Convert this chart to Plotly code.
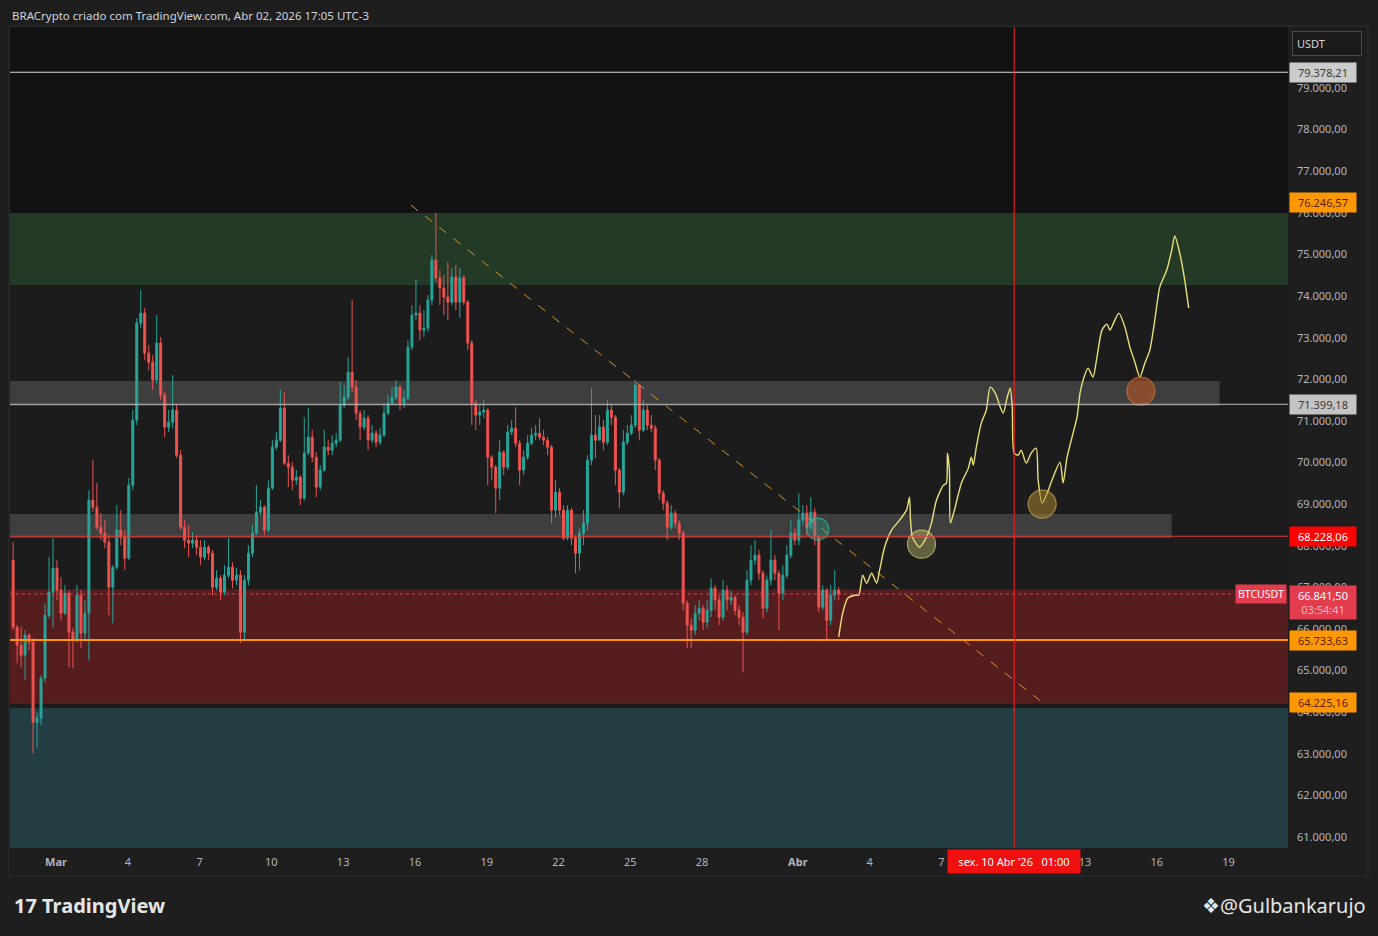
import pandas as pd
import plotly.graph_objects as go

# BTCUSDT 4h candles (UTC-3), first candle Feb 27 05:00, last Apr 02 17:00
candle_start = "2026-02-27 05:00"
first_open = 67653
closes = [
    66042, 65610, 65369, 65850, 65682, 63758, 63854, 64817, 66331, 66884,
    67461, 66932, 66379, 66860, 65922, 65730, 66811, 65898, 66379, 69095,
    68927, 68446, 68302, 68085, 67004, 67485, 68374, 68206, 67701, 69456,
    71018, 73350, 73591, 72629, 72412, 71980, 72869, 71620, 70850, 70970,
    71259, 70177, 68446, 68134, 68062, 68134, 67965, 67725, 67965, 67821,
    67004, 67220, 66884, 67292, 67485, 67172, 67292, 65922, 67172, 67821,
    68302, 68807, 68927, 68374, 69384, 70369, 70537, 71307, 69985, 69889,
    69576, 69648, 69144, 70225, 70610, 70129, 69408, 69817, 70369, 70297,
    70465, 70537, 71379, 71571, 72172, 71812, 71186, 70850, 71066, 70537,
    70706, 70489, 70658, 71186, 71427, 71571, 71812, 71427, 71547, 72773,
    73543, 73591, 73182, 73230, 73903, 74865, 74433, 74192, 73976, 73855,
    74457, 73855, 74433, 73855, 72869, 71427, 71138, 71211, 71259, 70129,
    69889, 69384, 70249, 69889, 70730, 70826, 70465, 69817, 70129, 70465,
    70658, 70706, 70610, 70537, 70369, 68855, 69288, 68855, 68182, 68855,
    68182, 67821, 68302, 68542, 70057, 70658, 70537, 70850, 70489, 71259,
    71090, 69817, 69288, 70489, 70706, 70898, 71860, 70778, 71259, 70898,
    70826, 70057, 69264, 69023, 68446, 68783, 68542, 68302, 66619, 66090,
    65970, 66379, 66499, 66162, 66451, 66980, 66691, 66282, 66932, 66691,
    66763, 66451, 66282, 65922, 67172, 67653, 67773, 67340, 66499, 67172,
    67653, 67340, 66860, 67292, 67773, 68302, 68134, 68615, 68783, 68446,
    68807, 68206, 66523, 66932, 66210, 66811, 66932, 66841.5,
]
highs = [
    68085, 66090, 66042, 65970, 65898, 65778, 63999, 64889, 66619, 67725,
    68182, 67653, 67244, 67052, 66932, 66018, 67052, 66932, 66691, 69336,
    70057, 69504, 68783, 68615, 68254, 67533, 68975, 68855, 68374, 69624,
    71259, 73470, 74144, 73711, 72821, 72581, 73543, 73014, 71692, 71259,
    72100, 71379, 70297, 68615, 68494, 68326, 68254, 68134, 68134, 68013,
    67893, 67412, 67292, 67533, 68182, 67605, 67461, 67412, 67292, 68013,
    68494, 69456, 69095, 68975, 69576, 70537, 70730, 71740, 71692, 70177,
    70009, 69817, 69696, 71090, 71307, 70778, 70249, 69937, 70778, 70537,
    70658, 70706, 71932, 71860, 72533, 73903, 71980, 71259, 71259, 71138,
    70898, 70778, 70826, 71379, 71620, 71812, 71980, 71860, 71740, 72941,
    73783, 74385, 73783, 73663, 74024, 74985, 75994, 74625, 74505, 74817,
    74673, 74745, 74673, 74505, 73903, 72941, 71499, 71379, 71499, 71307,
    70177, 69937, 70537, 70297, 70898, 71018, 71331, 70537, 70297, 70658,
    70826, 70898, 71066, 70778, 70610, 70417, 69576, 69384, 68975, 68975,
    68903, 68254, 68422, 68855, 70177, 71788, 71138, 71138, 71018, 71499,
    71379, 71138, 69865, 70778, 70898, 71138, 71980, 71860, 71499, 71379,
    71138, 70898, 70105, 69336, 69095, 68975, 68855, 68615, 68374, 66691,
    66258, 66571, 66691, 66571, 66691, 67220, 67052, 66811, 67172, 67052,
    66932, 66811, 66571, 66403, 67412, 68013, 68134, 67893, 67412, 67292,
    68374, 67773, 67412, 67533, 68013, 68615, 68422, 69264, 68975, 68975,
    69168, 68903, 68254, 67052, 66980, 67052, 67412, 67004,
]
lows = [
    65970, 65177, 65081, 64768, 65489, 63013, 63157, 63686, 64720, 66258,
    66042, 66691, 66210, 66331, 65081, 65057, 65682, 65537, 65730, 65249,
    68807, 68374, 68134, 67941, 66331, 66138, 67412, 68013, 67412, 67653,
    69336, 70898, 73230, 72460, 72220, 71740, 71908, 71499, 70610, 70730,
    70826, 70105, 68374, 67941, 67725, 67941, 67773, 67533, 67653, 67653,
    66811, 66932, 66691, 66811, 67220, 66980, 67052, 65658, 65730, 67052,
    67725, 68254, 68735, 68254, 68326, 69336, 70297, 70489, 69937, 69408,
    69336, 69456, 68975, 69095, 70177, 70009, 69168, 69336, 69768, 70177,
    70177, 70369, 70489, 71307, 71499, 71692, 71018, 70537, 70778, 70297,
    70465, 70369, 70417, 70610, 71138, 71379, 71499, 71259, 71307, 71499,
    72701, 73422, 72941, 73014, 73134, 73783, 74337, 73783, 73543, 73422,
    73783, 73663, 73470, 73783, 72701, 70898, 70778, 70898, 71066, 69456,
    69576, 68783, 69095, 69696, 69817, 70658, 70369, 69456, 69696, 70057,
    70417, 70537, 70537, 70417, 70177, 68542, 68663, 68735, 68134, 68134,
    68013, 67340, 67412, 68013, 68374, 69937, 70105, 70537, 70297, 70417,
    70898, 69456, 68903, 69216, 70417, 70658, 70826, 70537, 70730, 70778,
    70730, 69817, 69095, 68855, 68134, 68374, 68422, 68134, 66451, 65537,
    65537, 65850, 66210, 65970, 66018, 66282, 66451, 66090, 66210, 66451,
    66571, 66331, 66090, 64961, 65850, 67052, 67533, 67172, 66258, 66403,
    67052, 67172, 65970, 66691, 67220, 67701, 68013, 68013, 68494, 68254,
    68374, 68013, 66403, 66451, 65730, 66090, 66691, 66691,
]

# hand-drawn projection (brush)
proj_time = [
    "2026-04-02 17:00", "2026-04-02 21:00", "2026-04-03 02:00", "2026-04-03 09:00", "2026-04-03 13:00",
    "2026-04-03 17:00", "2026-04-03 21:00", "2026-04-04 02:00", "2026-04-04 07:00", "2026-04-04 10:00",
    "2026-04-04 15:00", "2026-04-04 22:00", "2026-04-05 06:00", "2026-04-05 13:00", "2026-04-05 16:00",
    "2026-04-05 17:00", "2026-04-05 19:00", "2026-04-06 02:00", "2026-04-06 09:00", "2026-04-06 14:00",
    "2026-04-06 19:00", "2026-04-07 02:00", "2026-04-07 05:00", "2026-04-07 06:00", "2026-04-07 08:00",
    "2026-04-07 09:00", "2026-04-07 13:00", "2026-04-07 20:00", "2026-04-08 03:00", "2026-04-08 06:00",
    "2026-04-08 08:00", "2026-04-08 11:00", "2026-04-08 16:00", "2026-04-08 21:00", "2026-04-09 01:00",
    "2026-04-09 06:00", "2026-04-09 11:00", "2026-04-09 14:00", "2026-04-09 18:00", "2026-04-09 21:00",
    "2026-04-09 23:00", "2026-04-10 01:00", "2026-04-10 05:00", "2026-04-10 08:00", "2026-04-10 13:00",
    "2026-04-10 18:00", "2026-04-10 23:00", "2026-04-11 01:00", "2026-04-11 05:00", "2026-04-11 10:00",
    "2026-04-11 16:00", "2026-04-11 23:00", "2026-04-12 02:00", "2026-04-12 06:00", "2026-04-12 11:00",
    "2026-04-12 16:00", "2026-04-12 19:00", "2026-04-12 23:00", "2026-04-13 03:00", "2026-04-13 08:00",
    "2026-04-13 12:00", "2026-04-13 17:00", "2026-04-13 22:00", "2026-04-14 01:00", "2026-04-14 05:00",
    "2026-04-14 10:00", "2026-04-14 16:00", "2026-04-14 21:00", "2026-04-15 02:00", "2026-04-15 07:00",
    "2026-04-15 12:00", "2026-04-15 17:00", "2026-04-15 22:00", "2026-04-16 03:00", "2026-04-16 10:00",
    "2026-04-16 15:00", "2026-04-16 18:00", "2026-04-16 23:00", "2026-04-17 04:00", "2026-04-17 08:00",
]
proj_price = [
    65809, 66379, 66739, 66811, 66811, 67292, 67100, 67340, 67100, 67412,
    67965, 68374, 68615, 68855, 69168, 68615, 68206, 67965, 68206, 68542,
    69095, 69456, 69504, 70225, 69817, 68542, 68855, 69504, 69865, 70129,
    69937, 70369, 70946, 71259, 71812, 71667, 71331, 71186, 71571, 71788,
    71331, 70225, 70177, 70297, 69985, 70225, 70345, 69576, 69023, 69264,
    69648, 70009, 69504, 70129, 70610, 71090, 71667, 72052, 72268, 72052,
    72533, 73182, 73326, 73182, 73374, 73591, 73254, 72773, 72412, 72052,
    72388, 72701, 73422, 74216, 74625, 75106, 75443, 75034, 74385, 73711,
]

trend_time = ["2026-03-15 20:00", "2026-04-11 08:45"]
trend_price = [76187, 64167]

circle_time = ["2026-04-01 20:00", "2026-04-06 04:00", "2026-04-11 05:00", "2026-04-15 08:00"]
circle_price = [68398, 68038, 68999, 71716]

level_white = 79378.21
level_gray = 71399.18
level_red = 68228.06
level_orange = 65733.63
last_price = 66841.50
label_orange_top = 76246.57
label_orange_low = 64225.16
countdown = "03:54:41"

zone_green = (74264, 75995)
zone_gray_hi = (71356, 71957)
zone_gray_lo = (68183, 68760)
zone_red = (64200, 66956)
zone_teal_top = 64100

gray_hi_end = "2026-04-18 15:00"
gray_lo_end = "2026-04-16 15:00"
vline_time = "2026-04-10 01:00"

x_range = ["2026-02-27 01:52", "2026-04-21 11:35"]
y_range = [60736, 80466]
y_tickvals = [61000, 62000, 63000, 64000, 65000, 66000, 67000, 68000, 69000, 70000,
              71000, 72000, 73000, 74000, 75000, 76000, 77000, 78000, 79000]

# the Apr 10 tick sits under the red crosshair label, so its text is left empty
x_tickvals = ["2026-03-01", "2026-03-04", "2026-03-07", "2026-03-10", "2026-03-13", "2026-03-16",
              "2026-03-19", "2026-03-22", "2026-03-25", "2026-03-28", "2026-04-01", "2026-04-04",
              "2026-04-07", "2026-04-10", "2026-04-13", "2026-04-16", "2026-04-19"]
x_ticktext = ["<b>Mar</b>", "4", "7", "10", "13", "16", "19", "22", "25", "28", "<b>Abr</b>",
              "4", "7", "", "13", "16", "19"]

UP = "#26a69a"
DOWN = "#ef5350"
FONT = "Noto Sans, Open Sans, sans-serif"


def br(v):
    return f"{v:,.2f}".replace(",", "_").replace(".", ",").replace("_", ".")


times = pd.date_range(candle_start, periods=len(closes), freq="4h")
opens = [first_open] + closes[:-1]
hi = [max(h, o, c) for h, o, c in zip(highs, opens, closes)]
lo = [min(l, o, c) for l, o, c in zip(lows, opens, closes)]

fig = go.Figure()

fig.add_trace(go.Candlestick(
    x=times, open=opens, high=hi, low=lo, close=closes,
    increasing=dict(line=dict(color=UP, width=1), fillcolor=UP),
    decreasing=dict(line=dict(color=DOWN, width=1), fillcolor=DOWN),
    whiskerwidth=0, hoverinfo="skip", showlegend=False,
))

fig.add_trace(go.Scatter(
    x=trend_time, y=trend_price, mode="lines",
    line=dict(color="rgba(245,166,35,0.85)", width=1, dash="dash"),
    hoverinfo="skip", showlegend=False,
))

fig.add_trace(go.Scatter(
    x=proj_time, y=proj_price, mode="lines",
    line=dict(color="#eadf78", width=1.4, shape="spline", smoothing=0.7),
    hoverinfo="skip", showlegend=False,
))

fig.add_trace(go.Scatter(
    x=circle_time, y=circle_price, mode="markers",
    marker=dict(
        size=[22, 28, 28, 28],
        color=["rgba(38,166,154,0.45)", "rgba(215,205,120,0.55)",
               "rgba(170,135,50,0.75)", "rgba(185,85,40,0.85)"],
        line=dict(color=["#26c6b0", "#e8dc7a", "#d8b850", "#e07a3a"], width=1.2),
    ),
    hoverinfo="skip", showlegend=False,
))


def zone(y0, y1, color, x1=None):
    if x1 is None:
        return dict(type="rect", xref="paper", yref="y", x0=0, x1=1, y0=y0, y1=y1,
                    fillcolor=color, line_width=0, layer="below")
    return dict(type="rect", xref="x", yref="y", x0=x_range[0], x1=x1, y0=y0, y1=y1,
                fillcolor=color, line_width=0, layer="below")


def hline(y, color, width=1, dash="solid"):
    return dict(type="line", xref="paper", yref="y", x0=0, x1=1, y0=y, y1=y,
                line=dict(color=color, width=width, dash=dash))


shapes = [
    zone(zone_green[1], y_range[1], "#121212"),
    zone(*zone_green, "#233a26"),
    zone(*zone_gray_hi, "#3e3e3e", gray_hi_end),
    zone(*zone_gray_lo, "#3e3e3e", gray_lo_end),
    zone(*zone_red, "#561d1f"),
    zone(y_range[0], zone_teal_top, "#233d44"),
    hline(level_white, "#d6d6d6"),
    hline(level_gray, "#bdbdbd"),
    hline(level_red, "#e53935"),
    hline(level_orange, "#ff9800", 2),
    dict(type="line", xref="paper", yref="y", x0=0, x1=0.957, y0=last_price, y1=last_price,
         line=dict(color="rgba(242,80,95,0.8)", width=1, dash="dot")),
    dict(type="line", xref="x", yref="paper", x0=vline_time, x1=vline_time, y0=0, y1=1,
         line=dict(color="#ff1f1f", width=1)),
    # chart frame
    dict(type="rect", xref="paper", yref="paper", x0=-0.0008, x1=1.0626, y0=-0.0341, y1=1.0012,
         line=dict(color="#2e2e2e", width=1), fillcolor="rgba(0,0,0,0)", layer="below"),
]


def price_label(y, text, bg, fg):
    return dict(xref="paper", yref="y", x=1.0008, y=y, xanchor="left", yanchor="middle",
                text=text, showarrow=False, bgcolor=bg, font=dict(color=fg, size=11, family=FONT),
                borderpad=2, width=62, align="center")


annotations = [
    price_label(level_white, br(level_white), "#cccccc", "#3a3a3a"),
    price_label(label_orange_top, br(label_orange_top), "#ff9800", "#5a2000"),
    price_label(level_gray, br(level_gray), "#c4c4c4", "#3a3a3a"),
    price_label(level_red, br(level_red), "#ff0000", "#ffffff"),
    price_label(level_orange, br(level_orange), "#ff9800", "#5a2000"),
    price_label(label_orange_low, br(label_orange_low), "#ff9800", "#5a2000"),
    dict(xref="paper", yref="y", x=1.0008, y=last_price, xanchor="left", yanchor="top",
         yshift=9, text=f"{br(last_price)}<br><span style='color:#f7b8c0'>{countdown}</span>",
         showarrow=False, bgcolor="#e33c4e", font=dict(color="#ffffff", size=11, family=FONT),
         borderpad=2, width=62, align="center"),
    dict(xref="paper", yref="y", x=0.9992, y=last_price, xanchor="right", yanchor="middle",
         text="BTCUSDT", showarrow=False, bgcolor="#e33c4e",
         font=dict(color="#ffffff", size=10.5, family=FONT), borderpad=2),
    dict(xref="x", yref="paper", x=vline_time, y=-0.001, xanchor="center", yanchor="top",
         text="sex. 10 Abr '26   01:00", showarrow=False, bgcolor="#f01010",
         font=dict(color="#ffffff", size=11, family=FONT), borderpad=4, width=124),
    dict(xref="paper", yref="paper", x=1.0031, y=0.9805, xanchor="left", yanchor="middle",
         text="USDT", showarrow=False, bgcolor="#1a1a1a", bordercolor="#4a4a4a", borderwidth=1,
         font=dict(color="#d1d4dc", size=11, family=FONT), borderpad=4, width=60, align="left"),
    dict(xref="paper", yref="paper", x=0, y=1.0134, xanchor="left", yanchor="middle",
         text="BRACrypto criado com TradingView.com, Abr 02, 2026 17:05 UTC-3", showarrow=False,
         font=dict(color="#d1d4dc", size=11.5, family=FONT)),
    dict(xref="paper", yref="paper", x=0.0016, y=-0.0706, xanchor="left", yanchor="middle",
         text="<b>17 TradingView</b>", showarrow=False,
         font=dict(color="#e6e6e6", size=20, family=FONT)),
    dict(xref="paper", yref="paper", x=1.0626, y=-0.0706, xanchor="right", yanchor="middle",
         text="❖@Gulbankarujo", showarrow=False,
         font=dict(color="#e6e6e6", size=20, family=FONT)),
]

fig.update_layout(
    width=1378, height=936,
    margin=dict(l=10, r=90, t=27, b=88),
    paper_bgcolor="#1e1e1e", plot_bgcolor="#1c1c1c",
    font=dict(family=FONT, color="#b2b5be", size=11),
    separators=",.",
    showlegend=False,
    shapes=shapes, annotations=annotations,
    xaxis=dict(type="date", range=x_range, tickvals=x_tickvals, ticktext=x_ticktext,
               showgrid=False, zeroline=False, showline=False, ticks="",
               ticklabelstandoff=6,
               tickfont=dict(size=11, color="#b2b5be"), rangeslider=dict(visible=False),
               fixedrange=True),
    yaxis=dict(side="right", range=y_range, tickvals=y_tickvals, tickformat=",.2f",
               showgrid=False, zeroline=False, showline=False, ticks="",
               ticklabelstandoff=8, tickfont=dict(size=11, color="#b2b5be"), fixedrange=True),
)

# drop the browser's default page margin so the figure fills the window like the screenshot
fig.write_html(
    "out.html",
    config={"displayModeBar": False},
    post_script="document.body.style.margin='0';document.body.style.background='#1e1e1e';"
                "document.body.style.overflow='hidden';",
)
